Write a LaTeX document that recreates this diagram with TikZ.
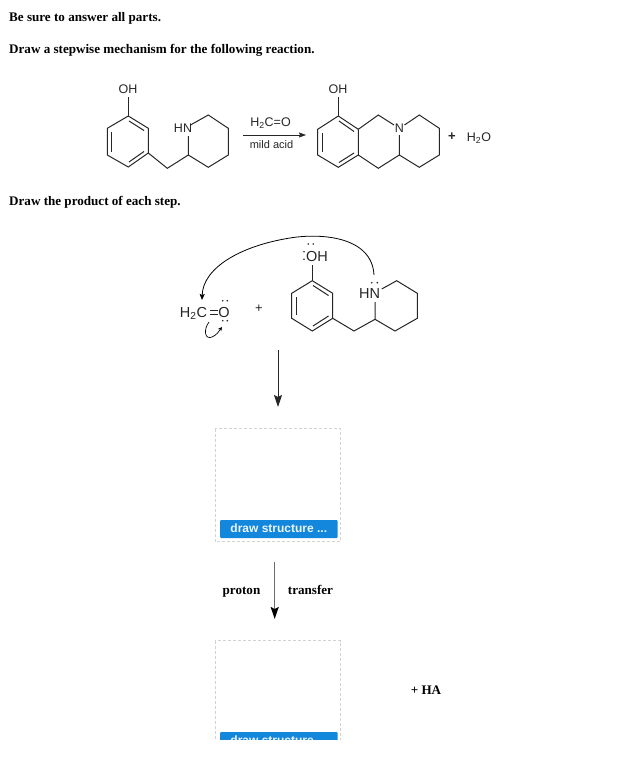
\documentclass[tikz,border=0pt]{standalone}
\usepackage{fontspec}
\setmainfont{Liberation Serif}
\setsansfont{Liberation Sans}
\usetikzlibrary{arrows.meta}
\definecolor{btnblue}{HTML}{1287DC}
\definecolor{dashgray}{HTML}{D2D2D2}
\definecolor{arrowgray}{HTML}{6E6E6E}
\tikzset{
  bond/.style={line width=1pt, black!85},
  prompt/.style={font=\rmfamily\bfseries\fontsize{13.1}{15}\selectfont, inner sep=0pt},
  chem/.style={font=\sffamily\fontsize{12.5}{14}\selectfont, inner sep=0pt, black!85},
  lewis/.style={font=\sffamily\fontsize{14.5}{16}\selectfont, inner sep=0pt, black!85},
  answerbox/.style={draw=dashgray, densely dashed, line width=0.7pt},
  drawbtn/.style={fill=btnblue, rounded corners=1pt},
  btntext/.style={font=\sffamily\bfseries\fontsize{12}{14}\selectfont, text=white!92!btnblue, inner sep=0pt},
  flow/.style={-{Stealth[length=12pt,width=8pt,inset=2pt]}, line width=1pt},
  lonepair/.style={fill=black!85}
}
\begin{document}
\begin{tikzpicture}[x=1pt,y=-1pt]
\useasboundingbox (0,0) rectangle (623,757);
% question text
\node[prompt, anchor=base west] (partsline) at (9,21.5) {Be sure to answer all parts.};
\node[prompt, anchor=base west] (stepline) at (9,53.5) {Draw a stepwise mechanism for the following reaction.};
\node[prompt, anchor=base west] (productline) at (9,205) {Draw the product of each step.};
% starting material
\node[chem] (ohA) at (128,89) {OH};
\node[chem] (hnA) at (183,128.5) {HN};
\draw[bond] (128.3,97) -- (128.3,116);
\draw[bond] (128.3,116) -- (148.3,128.3) -- (148.3,153) -- (128.3,167) -- (107.3,155) -- (107.3,128.3) -- cycle;
\draw[bond] (129,121) -- (144,130.5);
\draw[bond] (111.5,132) -- (111.5,151.5);
\draw[bond] (144,151.5) -- (129,162);
\draw[bond] (148.3,153) -- (167.3,168.3) -- (188.3,155) -- (188.3,136);
\draw[bond] (188.3,155) -- (208.3,167.3) -- (228.3,155) -- (228.3,128.3) -- (208.3,115) -- (190.5,125);
% reaction arrow
\coordinate (rxnstart) at (243.3,135);
\coordinate (rxnend) at (306,135);
\draw[-{Stealth[length=7pt,width=5pt,inset=1pt]}, line width=0.7pt, black!85] (rxnstart) -- (rxnend);
\node[chem] (reagent) at (270.5,123.5) {H\textsubscript{2}C=O};
\node[chem, font=\sffamily\fontsize{11}{13}\selectfont] (cond) at (271.5,144.5) {mild acid};
% product
\node[chem] (ohB) at (338,89) {OH};
\node[chem] (nB) at (399.5,128.5) {N};
\draw[bond] (338.3,97) -- (338.3,116);
\draw[bond] (338.3,116) -- (358.3,129.3) -- (358.3,155) -- (338.3,167.3) -- (317.7,155) -- (317.7,129.3) -- cycle;
\draw[bond] (339,121) -- (354,131.5);
\draw[bond] (322,133) -- (322,151.5);
\draw[bond] (354,153) -- (339,162.5);
\draw[bond] (358.3,129.3) -- (378.3,115) -- (394,125);
\draw[bond] (358.3,155) -- (378.3,168.3) -- (399.3,155) -- (399.3,135);
\draw[bond] (399.3,155) -- (419.3,167.3) -- (439.3,155) -- (439.3,128.3) -- (419.3,115) -- (404.5,125);
\node[chem, font=\sffamily\bfseries\fontsize{13}{15}\selectfont] (plusB) at (452,137) {+};
\node[chem] (water) at (479,138.5) {H\textsubscript{2}O};
% mechanism step
\node[lewis] (ohC) at (317,256.5) {OH};
\fill[lonepair] (308.3,244) circle (0.9pt) (313.3,244) circle (0.9pt);
\fill[lonepair] (304,251.7) circle (0.9pt) (304,259.3) circle (0.9pt);
\node[lewis] (hnC) at (369.5,294) {HN};
\fill[lonepair] (371.7,282.7) circle (0.9pt) (377.3,282.7) circle (0.9pt);
\draw[bond] (312.3,265) -- (312.3,280.7);
\draw[bond] (312.3,280.7) -- (332.7,293.3) -- (332.7,318.3) -- (312.3,331) -- (291.7,318.3) -- (291.7,293.3) -- cycle;
\draw[bond] (313,285.5) -- (328.5,295.5);
\draw[bond] (296,297) -- (296,315);
\draw[bond] (328.5,316) -- (313,326);
\draw[bond] (332.7,318.3) -- (354,331) -- (375,319.3) -- (375,302);
\draw[bond] (375,319.3) -- (395,331) -- (417.3,318.3) -- (417.3,293.3) -- (396.7,280.7) -- (381.7,289);
\node[lewis] (formald) at (193.5,313.5) {H\textsubscript{2}C};
\node[lewis] (oxy) at (224,312.5) {O};
\draw[bond] (209.5,310) -- (217.5,310);
\draw[bond] (209.5,314) -- (217.5,314);
\fill[lonepair] (222.7,300.7) circle (0.9pt) (227.3,300.7) circle (0.9pt);
\fill[lonepair] (222.7,320.7) circle (0.9pt) (227.3,320.7) circle (0.9pt);
\node[chem, font=\sffamily\fontsize{13}{15}\selectfont] (plusC) at (259,309) {+};
% electron pushing arrows
\coordinate (pushstart) at (374,275);
\coordinate (pushend) at (202,300);
\draw[-{Stealth[length=6pt,width=5pt,inset=1pt]}, line width=0.8pt] (pushstart) .. controls (372,236) and (320,233) .. (290,238) .. controls (240,246) and (203,268) .. (pushend);
\coordinate (loopstart) at (209,322);
\coordinate (loopend) at (222,327);
\draw[-{Stealth[length=4pt,width=4pt]}, line width=0.7pt] (loopstart) .. controls (203,330) and (205,340) .. (212,337) .. controls (217,335) and (219,331) .. (loopend);
\coordinate (stepAtop) at (278,350);
\coordinate (stepAend) at (278,407);
\draw[flow, black!85] (stepAtop) -- (stepAend);
% first answer box
\draw[answerbox] (215,428.5) rectangle (340.5,541.5);
\node[drawbtn, minimum width=117.5pt, minimum height=18pt, inner sep=0pt] (btnA) at (278.8,529) {};
\node[btntext] (btnAtext) at (278.8,528.5) {draw structure ...};
% proton transfer
\coordinate (stepBtop) at (274.7,561.5);
\coordinate (stepBend) at (274.7,619);
\draw[arrowgray, line width=1.2pt, arrows={-{Stealth[length=12pt,width=8pt,inset=2pt,black]}}] (stepBtop) -- (stepBend);
\node[prompt, anchor=base] (protonlbl) at (241.5,594) {proton};
\node[prompt, anchor=base] (transferlbl) at (310.5,594) {transfer};
% second answer box, cut off at the bottom
\begin{scope}
\clip (200,630) rectangle (350,739);
\draw[answerbox] (215,640.5) rectangle (340.5,753);
\node[drawbtn, minimum width=117.5pt, minimum height=18pt, inner sep=0pt] (btnB) at (278.8,741) {};
\node[btntext] (btnBtext) at (278.8,740.5) {draw structure ...};
\end{scope}
\node[prompt, anchor=base] (byproduct) at (426,694) {+ HA};
\end{tikzpicture}
\end{document}
